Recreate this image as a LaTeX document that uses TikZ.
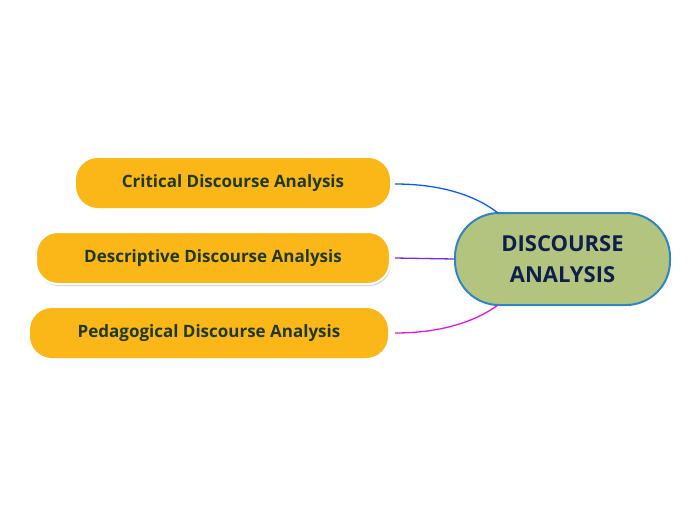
\documentclass[tikz,border=0pt]{standalone}
\usepackage{fontspec}
\setmainfont{Open Sans}
\usetikzlibrary{shadows}
\definecolor{orng}{HTML}{FBB617}
\definecolor{txtg}{HTML}{1F3A1A}
\definecolor{cfill}{HTML}{B3C47F}
\definecolor{cbord}{HTML}{2E86C8}
\definecolor{navy}{HTML}{0D1F4A}
\begin{document}
\begin{tikzpicture}[x=1pt,y=-1pt,
  leaf/.style={fill=orng,rounded corners=22pt,inner sep=0pt,font=\fontsize{17}{20}\selectfont\bfseries,text=txtg},
  cent/.style={fill=cfill,draw=cbord,line width=2pt,rounded corners=44pt,inner sep=0pt,align=center,font=\fontsize{22}{31}\selectfont\bfseries,text=navy},
  conn/.style={line width=1.3pt}]
\useasboundingbox (0,0) rectangle (696,520);
\node[cent,minimum width=215pt,minimum height=92pt] (c) at (562.5,259) {DISCOURSE\\ANALYSIS};
\node[leaf,minimum width=314pt,minimum height=50pt] (a) at (233,183) {Critical Discourse Analysis};
\node[leaf,minimum width=354pt,minimum height=52pt,draw=white,line width=2pt,drop shadow={shadow xshift=1pt,shadow yshift=-2pt,opacity=0.35}] (b) at (213,258) {Descriptive Discourse Analysis};
\node[leaf,minimum width=358pt,minimum height=50pt] (d) at (209,333) {Pedagogical Discourse Analysis};
\coordinate (a1) at (395,184);
\coordinate (b1) at (395,258);
\coordinate (d1) at (395,333);
\draw[conn,draw={rgb,255:red,10;green,90;blue,255}] (a1) .. controls (440,184) and (475,195) .. (498,213);
\draw[conn,draw={rgb,255:red,120;green,40;blue,230}] (b1) -- (c.west);
\draw[conn,draw={rgb,255:red,230;green,20;blue,230}] (d1) .. controls (440,333) and (475,322) .. (498,305);
\end{tikzpicture}
\end{document}
